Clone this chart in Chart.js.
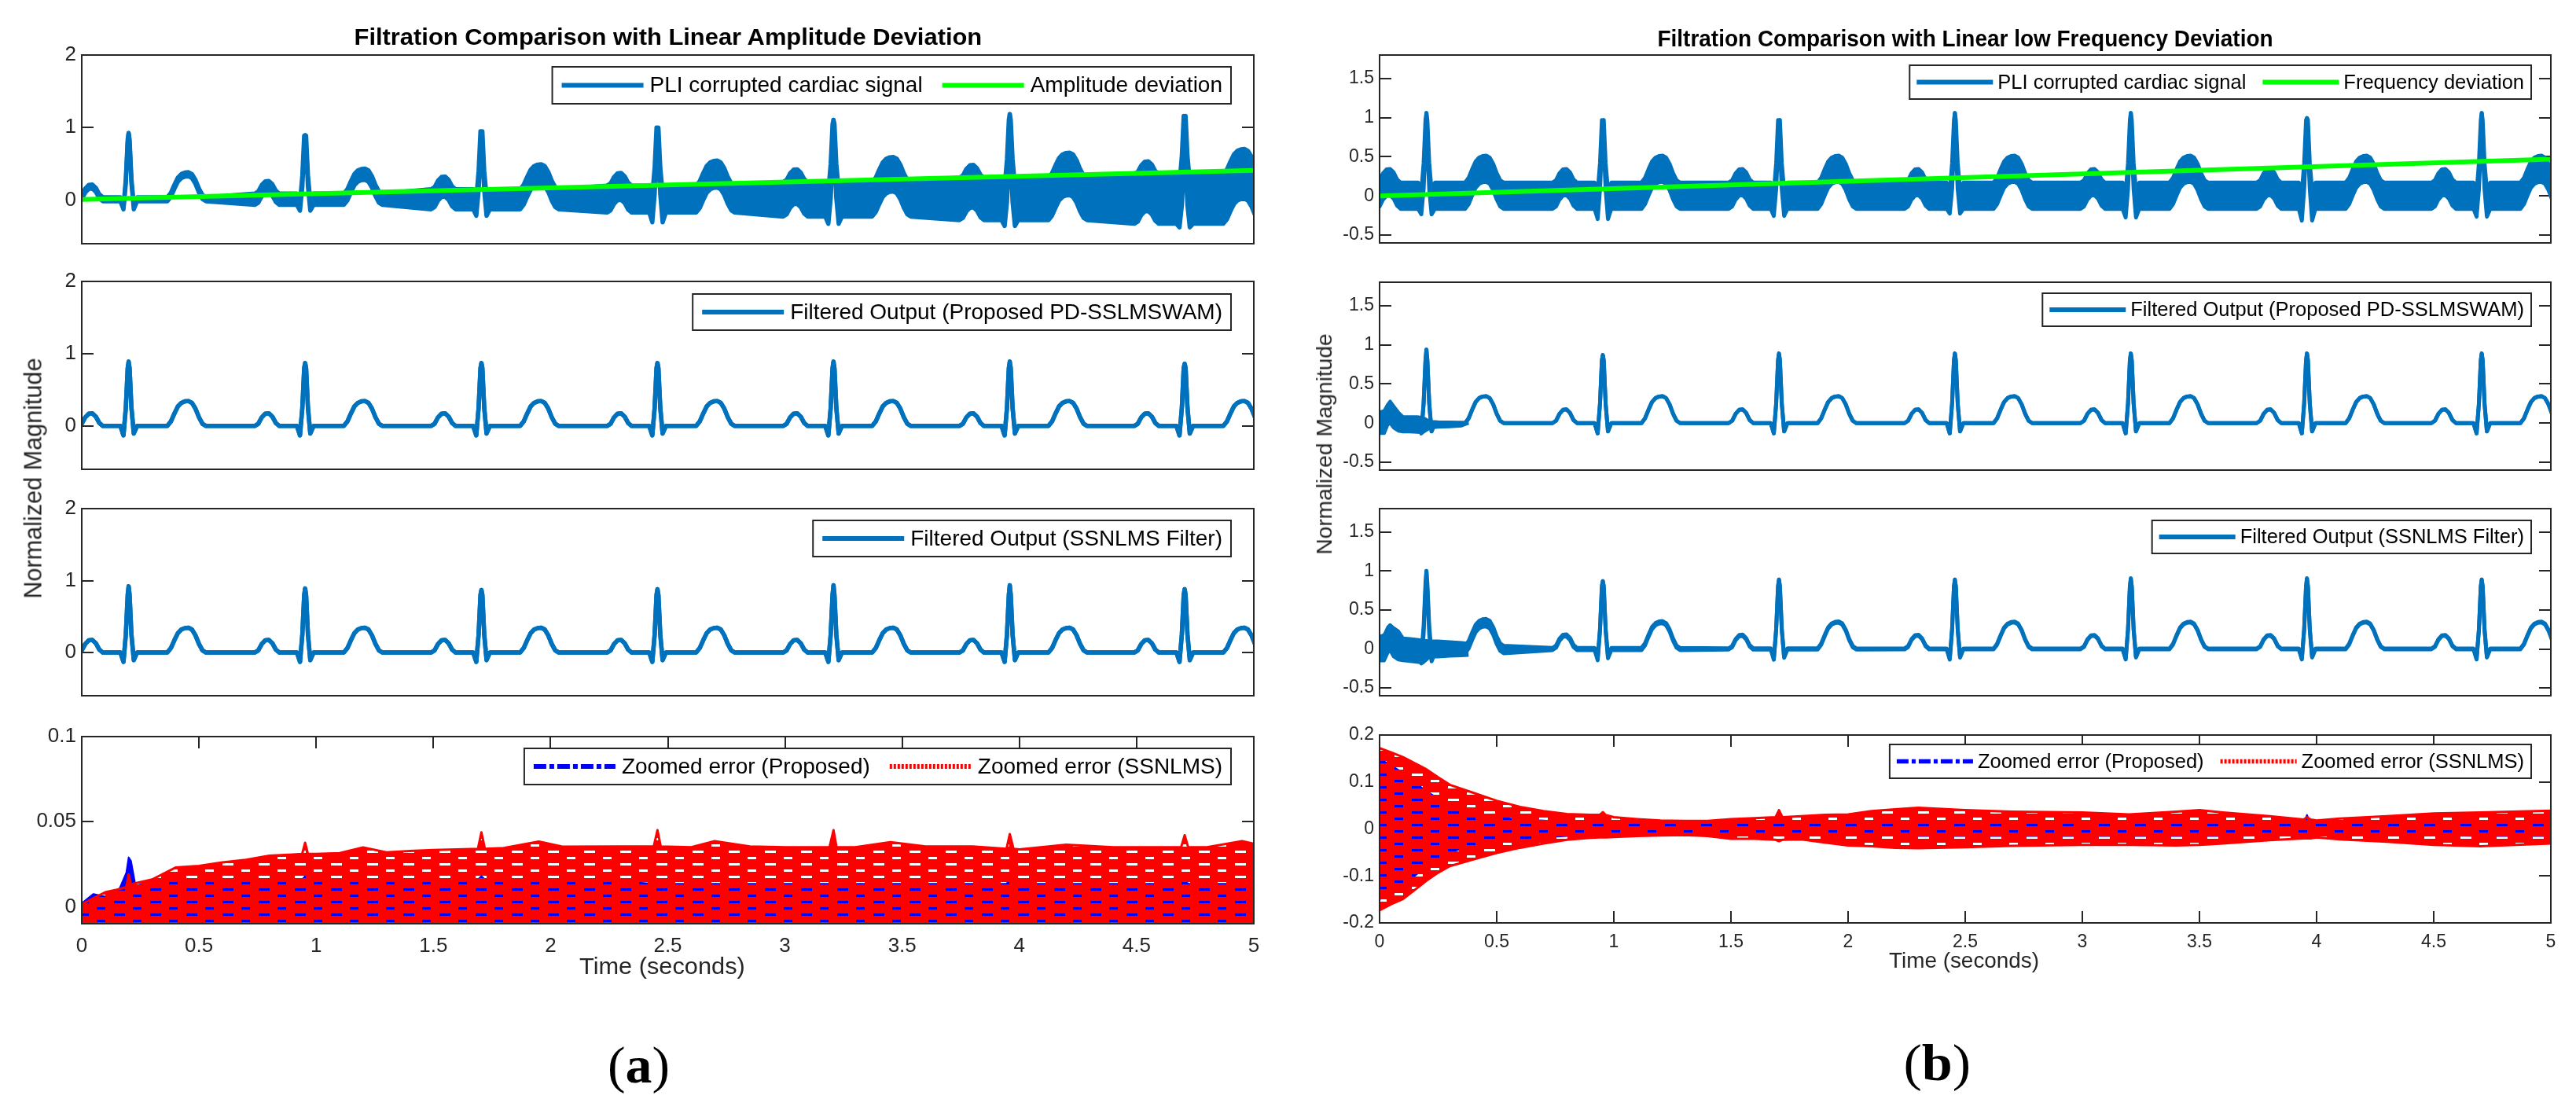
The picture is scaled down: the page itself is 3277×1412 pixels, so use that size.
<!DOCTYPE html>
<html>
<head>
<meta charset="utf-8">
<script src="https://cdn.jsdelivr.net/npm/chart.js@4.4.1/dist/chart.umd.min.js"></script>
<style>
  body { margin: 0; background: #fff; }
  #fig { position: relative; width: 3277px; height: 1412px; overflow: hidden; background: #fff;
         font-family: "Liberation Sans", Arial, sans-serif; }
  #fig canvas { position: absolute; }
  .txt { position: absolute; white-space: nowrap; line-height: 1; transform-origin: center center; }
</style>
</head>
<body>
<div id="fig"></div>
<script>
// ---- shared axis / beat data ----
var xTicks = [0, 0.5, 1, 1.5, 2, 2.5, 3, 3.5, 4, 4.5, 5];
var beatR = [0.2, 0.953, 1.705, 2.456, 3.207, 3.959, 4.705];          // R-peak times (s)
// one PQRST beat, time relative to R (s) and value
var shapeT = [-0.215, -0.2, -0.185, -0.17, -0.155, -0.14, -0.125, -0.11, -0.035, -0.022, -0.012, -0.004, 0,
              0.004, 0.012, 0.022, 0.036, 0.165, 0.18, 0.195, 0.21, 0.225, 0.24, 0.255, 0.27, 0.285, 0.3, 0.315, 0.33];
var shapeV = [0, 0.03, 0.12, 0.17, 0.175, 0.13, 0.04, 0, 0, -0.13, 0.25, 0.8, 0.885,
              0.8, 0.25, -0.105, 0, 0, 0.06, 0.17, 0.27, 0.32, 0.34, 0.345, 0.32, 0.24, 0.12, 0.03, 0];

// ---- (a) linear amplitude deviation ----
var aDriftT = [0, 5];
var aDriftV = [0.01, 0.41];
var aNoisyR = [0.925, 0.895, 0.795, 0.96, 1.105, 1.185, 1.025];
var aNoisyDip = [-0.125, -0.145, -0.215, -0.305, -0.325, -0.355, -0.375];
var aNoisyUp = [0.04, 0.09, 0.15, 0.2, 0.25, 0.31, 0.36];
var aNoisyLow = [0.015, 0.065, 0.125, 0.17, 0.225, 0.275, 0.325];
var aPropR = [0.89, 0.87, 0.87, 0.87, 0.89, 0.89, 0.86];
var aSsnR = [0.92, 0.89, 0.87, 0.88, 0.935, 0.935, 0.88];
var noAmp = [0, 0, 0, 0, 0, 0, 0];
var aErrT = [0, 0.05, 0.1, 0.15, 0.19, 0.2, 0.21, 0.23, 0.3, 0.4, 0.5, 0.6, 0.7, 0.8, 0.9, 0.94, 0.953, 0.965,
             1.0, 1.1, 1.2, 1.3, 1.4, 1.5, 1.6, 1.69, 1.705, 1.72, 1.8, 1.95, 2.05, 2.3, 2.44, 2.456, 2.47,
             2.6, 2.7, 2.85, 3.0, 3.19, 3.207, 3.22, 3.3, 3.45, 3.6, 3.8, 3.945, 3.959, 3.975,
             4.0, 4.2, 4.4, 4.6, 4.69, 4.705, 4.72, 4.8, 4.95, 5.0];
var aErrSsn = [0.0015, 0.005, 0.0085, 0.01, 0.0115, 0.019, 0.013, 0.0138, 0.016, 0.023, 0.024, 0.026, 0.0276, 0.03, 0.0307, 0.031, 0.0376, 0.031,
               0.031, 0.0315, 0.0348, 0.032, 0.0328, 0.0333, 0.0337, 0.034, 0.0437, 0.034, 0.0345, 0.0383, 0.0353, 0.0354, 0.0354, 0.045, 0.0354,
               0.035, 0.0385, 0.0354, 0.035, 0.035, 0.045, 0.035, 0.035, 0.038, 0.0354, 0.0354, 0.034, 0.0427, 0.034,
               0.0337, 0.0364, 0.035, 0.035, 0.035, 0.042, 0.035, 0.035, 0.0385, 0.037];
var aErrProp = [0.002, 0.0075, 0.006, 0.007, 0.02, 0.029, 0.027, 0.012, 0.016, 0.016, 0.016, 0.016, 0.016, 0.016, 0.016, 0.016, 0.018, 0.016,
                0.016, 0.016, 0.016, 0.016, 0.016, 0.016, 0.016, 0.016, 0.018, 0.016, 0.016, 0.016, 0.016, 0.015, 0.0135, 0.016, 0.0135,
                0.0135, 0.0135, 0.0135, 0.0135, 0.0135, 0.016, 0.0135, 0.0135, 0.0135, 0.0135, 0.0135, 0.0135, 0.016, 0.0135,
                0.0135, 0.0135, 0.0135, 0.0135, 0.0135, 0.016, 0.0135, 0.0135, 0.0135, 0.0135];

// ---- (b) linear low frequency deviation ----
var bDriftT = [0, 5];
var bDriftV = [0.0, 0.47];
var bNoisyR = [1.06, 0.93, 0.955, 1.06, 1.06, 0.995, 1.06];
var bNoisyDip = [-0.235, -0.295, -0.255, -0.225, -0.275, -0.315, -0.265];
var bNoisyUp = [0.17, 0.17, 0.17, 0.17, 0.17, 0.17, 0.17];
var bNoisyLow = [0.165, 0.165, 0.165, 0.165, 0.165, 0.165, 0.165];
var bPropR = [0.94, 0.87, 0.89, 0.89, 0.89, 0.89, 0.89];
var bSsnR = [1.0, 0.87, 0.89, 0.89, 0.905, 0.905, 0.89];
var bSsnUp = [0.04, 0.012, 0.008, 0.006, 0.005, 0.005, 0.005];
var bSsnLow = [0.055, 0.015, 0.008, 0.006, 0.005, 0.005, 0.005];
var bTransT = [0, 0.02, 0.035, 0.045, 0.06, 0.08, 0.1, 0.13, 0.16, 0.185, 0.215, 0.25, 0.3, 0.35, 0.38];
var bPropTransUp = [0.14, 0.16, 0.24, 0.28, 0.22, 0.14, 0.08, 0.08, 0.08, 0.07, 0.02, 0.015, 0.012, 0.008, 0.0];
var bPropTransLow = [-0.13, -0.13, -0.02, 0.0, -0.06, -0.1, -0.11, -0.11, -0.115, -0.12, -0.06, -0.05, -0.045, -0.035, 0.0];
var bSsnTransUp = [0.16, 0.18, 0.28, 0.31, 0.27, 0.23, 0.14, 0.13, 0.12, 0.11, 0.1, 0.1, 0.09, 0.08, 0.07];
var bSsnTransLow = [-0.15, -0.15, -0.05, -0.02, -0.1, -0.14, -0.15, -0.16, -0.17, -0.18, -0.1, -0.1, -0.09, -0.085, -0.08];
var bErrT = [0, 0.05, 0.1, 0.15, 0.2, 0.25, 0.3, 0.4, 0.5, 0.6, 0.7, 0.8, 0.9, 0.94, 0.953, 0.965,
             1.0, 1.1, 1.2, 1.3, 1.4, 1.5, 1.6, 1.69, 1.705, 1.72, 1.8, 1.9, 2.0, 2.1, 2.2, 2.3,
             2.5, 2.7, 3.0, 3.2, 3.4, 3.5, 3.6, 3.8, 3.945, 3.959, 3.975, 4.0, 4.1, 4.3, 4.5, 4.7, 5.0];
var bErrSsnUp = [0.172, 0.163, 0.153, 0.14, 0.127, 0.11, 0.094, 0.077, 0.06, 0.047, 0.038, 0.032, 0.03, 0.03, 0.036, 0.03,
                 0.025, 0.021, 0.018, 0.017, 0.017, 0.021, 0.023, 0.025, 0.04, 0.025, 0.027, 0.03, 0.031, 0.038, 0.042, 0.045,
                 0.04, 0.037, 0.035, 0.031, 0.037, 0.04, 0.035, 0.027, 0.02, 0.025, 0.02, 0.018, 0.022, 0.027, 0.033, 0.035, 0.039];
var bErrSsnLow = [-0.173, -0.16, -0.149, -0.13, -0.11, -0.093, -0.079, -0.065, -0.051, -0.04, -0.031, -0.023, -0.019, -0.018, -0.018, -0.018,
                  -0.017, -0.015, -0.014, -0.013, -0.015, -0.021, -0.021, -0.023, -0.026, -0.023, -0.022, -0.029, -0.035, -0.037, -0.04, -0.041,
                  -0.039, -0.036, -0.034, -0.034, -0.035, -0.034, -0.031, -0.024, -0.02, -0.02, -0.02, -0.018, -0.022, -0.027, -0.034, -0.037, -0.031];
var bErrPropUp = [0.15, 0.135, 0.12, 0.1, 0.08, 0.065, 0.05, 0.035, 0.025, 0.02, 0.018, 0.015, 0.013, 0.013, 0.03, 0.013,
                  0.012, 0.012, 0.012, 0.012, 0.012, 0.012, 0.012, 0.012, 0.04, 0.012, 0.012, 0.012, 0.012, 0.012, 0.014, 0.015,
                  0.015, 0.015, 0.015, 0.015, 0.015, 0.015, 0.015, 0.014, 0.012, 0.03, 0.012, 0.012, 0.012, 0.013, 0.014, 0.015, 0.015];
var bErrPropLow = [-0.15, -0.135, -0.12, -0.1, -0.08, -0.065, -0.05, -0.035, -0.025, -0.02, -0.018, -0.015, -0.013, -0.013, -0.013, -0.013,
                   -0.012, -0.012, -0.012, -0.012, -0.012, -0.012, -0.012, -0.012, -0.012, -0.012, -0.012, -0.012, -0.012, -0.012, -0.014, -0.015,
                   -0.015, -0.015, -0.015, -0.015, -0.015, -0.015, -0.015, -0.014, -0.012, -0.012, -0.012, -0.012, -0.012, -0.013, -0.014, -0.015, -0.015];

var ML_BLUE = '#0072BD';
var FONT = '"Liberation Sans", Arial, sans-serif';
var fig = document.getElementById('fig');

function pts(xs, ys) {
    var out = [];
    for (var i = 0; i < xs.length; i++) out.push({x: xs[i], y: ys[i]});
    return out;
}

// place the read beat shape at every R time, with per-beat band widths and R/dip values
function buildEcg(rPeak, upAmp, lowAmp, dip) {
    var up = [], low = [];
    for (var k = 0; k < beatR.length; k++) {
        for (var i = 0; i < shapeT.length; i++) {
            var u = shapeV[i] + upAmp[k], l = shapeV[i] - lowAmp[k];
            if (i === 12) { u = rPeak[k]; l = rPeak[k]; }
            if (dip && (i === 9 || i === 15)) { l = dip[k]; }
            up.push({x: beatR[k] + shapeT[i], y: u});
            low.push({x: beatR[k] + shapeT[i], y: l});
        }
    }
    return {up: up, low: low};
}

function redTexture() {
    var c = document.createElement('canvas');
    c.width = 46; c.height = 16;
    var g = c.getContext('2d');
    g.fillStyle = '#ff0000';
    g.fillRect(0, 0, 46, 16);
    g.clearRect(3, 3, 14, 3);
    g.clearRect(27, 11, 11, 3);
    return g.createPattern(c, 'repeat');
}

// MATLAB-like box with inward ticks
var axesBox = {
    id: 'axesBox',
    beforeDatasetsDraw: function (chart, args, o) {
        var ctx = chart.ctx, a = chart.chartArea, x = chart.scales.x, y = chart.scales.y;
        ctx.save();
        ctx.strokeStyle = '#262626';
        ctx.lineWidth = 2;
        ctx.beginPath();
        y.ticks.forEach(function (t) {
            var p = Math.round(y.getPixelForValue(t.value));
            ctx.moveTo(a.left, p); ctx.lineTo(a.left + o.len, p);
            ctx.moveTo(a.right, p); ctx.lineTo(a.right - o.len, p);
        });
        if (o.xTicks) {
            x.ticks.forEach(function (t) {
                var p = Math.round(x.getPixelForValue(t.value));
                ctx.moveTo(p, a.top); ctx.lineTo(p, a.top + o.len);
                ctx.moveTo(p, a.bottom); ctx.lineTo(p, a.bottom - o.len);
            });
        }
        ctx.stroke();
        ctx.restore();
    },
    afterDatasetsDraw: function (chart) {
        var ctx = chart.ctx, a = chart.chartArea;
        ctx.save();
        ctx.strokeStyle = '#262626';
        ctx.lineWidth = 2;
        ctx.strokeRect(a.left, a.top, a.right - a.left, a.bottom - a.top);
        ctx.restore();
    }
};

// boxed legend in the top right corner
var legendBox = {
    id: 'legendBox',
    afterDraw: function (chart, args, o) {
        if (!o.items) return;
        var ctx = chart.ctx, a = chart.chartArea;
        ctx.save();
        ctx.font = o.size + 'px ' + FONT;
        var widths = o.items.map(function (it) { return ctx.measureText(it.label).width; });
        var bw = o.padL + o.padR;
        widths.forEach(function (w, i) { bw += o.sample + o.gap + w + (i ? o.itemGap : 0); });
        var x0 = a.right - o.right - bw, y0 = a.top + o.top, ym = y0 + o.h / 2;
        ctx.fillStyle = '#fff';
        ctx.fillRect(x0, y0, bw, o.h);
        ctx.lineWidth = 2;
        ctx.strokeStyle = '#262626';
        ctx.strokeRect(x0, y0, bw, o.h);
        var x = x0 + o.padL;
        o.items.forEach(function (it, i) {
            ctx.beginPath();
            ctx.setLineDash(it.dash || []);
            ctx.lineCap = 'butt';
            ctx.lineWidth = it.width;
            ctx.strokeStyle = it.color;
            ctx.moveTo(x, ym); ctx.lineTo(x + o.sample, ym);
            ctx.stroke();
            ctx.setLineDash([]);
            x += o.sample + o.gap;
            ctx.fillStyle = '#000';
            ctx.textAlign = 'left';
            ctx.textBaseline = 'middle';
            ctx.fillText(it.label, x, ym + 1);
            x += widths[i] + o.itemGap;
        });
        ctx.restore();
    }
};

function panel(col, row, yMin, yMax, yTicks, showX, datasets, items, lgPos) {
    var top = col.rows[row][0], bottom = col.rows[row][1];
    var padL = 100, padR = 20, padT = 18, padB = 18, xH = showX ? 50 : 0;
    var w = col.right - col.left, h = bottom - top;
    var cv = document.createElement('canvas');
    cv.width = w + padL + padR;
    cv.height = h + padT + padB + xH;
    cv.style.left = (col.left - padL) + 'px';
    cv.style.top = (top - padT) + 'px';
    fig.appendChild(cv);
    var tickFont = {family: FONT, size: col.tick};
    new Chart(cv.getContext('2d'), {
        type: 'line',
        data: {datasets: datasets},
        options: {
            responsive: false,
            animation: false,
            devicePixelRatio: 1,
            layout: {padding: {left: 0, right: padR, top: padT, bottom: padB}},
            elements: {point: {radius: 0}, line: {tension: 0, borderJoinStyle: 'round'}},
            plugins: {
                legend: {display: false},
                tooltip: {enabled: false},
                axesBox: {len: 15, xTicks: showX},
                legendBox: {
                    items: items, size: col.legend, right: col.lg.right, top: lgPos[0], h: lgPos[1],
                    padL: col.lg.padL, padR: col.lg.padR, sample: col.lg.sample, gap: col.lg.gap, itemGap: col.lg.itemGap
                }
            },
            scales: {
                x: {
                    type: 'linear', min: 0, max: 5, display: showX,
                    grid: {display: false, drawTicks: false}, border: {display: false},
                    afterBuildTicks: function (s) { s.ticks = xTicks.map(function (v) { return {value: v}; }); },
                    afterFit: function (s) {
                        s.height = xH;
                        s.paddingLeft = 0; s.paddingRight = 0; s.paddingTop = 0; s.paddingBottom = 0;
                    },
                    ticks: {autoSkip: false, maxRotation: 0, padding: col.xPad, color: '#262626', font: tickFont,
                            callback: function (v) { return String(v); }}
                },
                y: {
                    type: 'linear', min: yMin, max: yMax,
                    grid: {display: false, drawTicks: false}, border: {display: false},
                    afterBuildTicks: function (s) { s.ticks = yTicks.map(function (v) { return {value: v}; }); },
                    afterFit: function (s) {
                        s.width = padL;
                        s.paddingLeft = 0; s.paddingRight = 0; s.paddingTop = 0; s.paddingBottom = 0;
                    },
                    ticks: {autoSkip: false, padding: 7, color: '#262626', font: tickFont,
                            callback: function (v) { return String(v); }}
                }
            }
        },
        plugins: [axesBox, legendBox]
    });
}

function ecgSets(band, lw) {
    return [
        {data: band.up, borderColor: ML_BLUE, backgroundColor: ML_BLUE, borderWidth: lw, fill: false},
        {data: band.low, borderColor: ML_BLUE, backgroundColor: ML_BLUE, borderWidth: lw, fill: '-1'}
    ];
}

function transSets(ups, lows) {
    return [
        {data: pts(bTransT, ups), borderColor: ML_BLUE, backgroundColor: ML_BLUE, borderWidth: 4, fill: false},
        {data: pts(bTransT, lows), borderColor: ML_BLUE, backgroundColor: ML_BLUE, borderWidth: 4, fill: '-1'}
    ];
}

function text(html, cx, cy, css, fitW, rotate) {
    var d = document.createElement('div');
    d.className = 'txt';
    d.innerHTML = html;
    for (var k in css) d.style[k] = css[k];
    fig.appendChild(d);
    var w = d.offsetWidth, h = d.offsetHeight;
    var s = fitW ? fitW / w : 1;
    d.style.left = (cx - w / 2) + 'px';
    d.style.top = (cy - h / 2) + 'px';
    d.style.transform = (rotate ? 'rotate(-90deg) ' : '') + 'scaleX(' + s + ')';
}

var colA = {left: 104, right: 1595, tick: 26, legend: 28, lw: 5.5, xPad: 13,
            rows: [[70, 310], [358, 597], [647, 885], [937, 1175]],
            lg: {padL: 12, sample: 104, gap: 8, itemGap: 25, padR: 11, right: 29}};
var colB = {left: 1755, right: 3245, tick: 23, legend: 25.5, lw: 5, xPad: 11,
            rows: [[70, 309], [359, 598], [647, 885], [935, 1174]],
            lg: {padL: 9, sample: 97, gap: 6, itemGap: 21, padR: 9, right: 25}};

var lineItem = function (label, color, w) { return {label: label, color: color, width: w}; };
var tex = redTexture();
var yA = [0, 1, 2], yB = [-0.5, 0, 0.5, 1, 1.5];

// ----- column (a) -----
panel(colA, 0, -0.6, 2, yA, false,
    [{data: pts(aDriftT, aDriftV), borderColor: '#00FF00', borderWidth: 6, fill: false}]
        .concat(ecgSets(buildEcg(aNoisyR, aNoisyUp, aNoisyLow, aNoisyDip), colA.lw)),
    [lineItem('PLI corrupted cardiac signal', ML_BLUE, 6), lineItem('Amplitude deviation', '#00FF00', 6)], [15, 47]);
panel(colA, 1, -0.6, 2, yA, false, ecgSets(buildEcg(aPropR, noAmp, noAmp), colA.lw),
    [lineItem('Filtered Output (Proposed PD-SSLMSWAM)', ML_BLUE, 6)], [16, 46]);
panel(colA, 2, -0.6, 2, yA, false, ecgSets(buildEcg(aSsnR, noAmp, noAmp), colA.lw),
    [lineItem('Filtered Output (SSNLMS Filter)', ML_BLUE, 6)], [15, 46]);
panel(colA, 3, -0.01, 0.1, [0, 0.05, 0.1], true, [
        {data: pts(aErrT, aErrSsn), borderColor: '#FF0000', backgroundColor: tex, borderWidth: 3, fill: {value: -0.012}},
        {data: pts(aErrT, aErrProp), borderColor: '#0000FF', backgroundColor: '#0000FF', borderWidth: 2, fill: {value: -0.012}}
    ],
    [{label: 'Zoomed error (Proposed)', color: '#0000FF', width: 6, dash: [16, 4, 6, 4]},
     {label: 'Zoomed error (SSNLMS)', color: '#FF0000', width: 6, dash: [3, 2]}], [15, 46]);

// ----- column (b) -----
panel(colB, 0, -0.6, 1.8, yB, false,
    [{data: pts(bDriftT, bDriftV), borderColor: '#00FF00', borderWidth: 6, fill: false}]
        .concat(ecgSets(buildEcg(bNoisyR, bNoisyUp, bNoisyLow, bNoisyDip), colB.lw)),
    [lineItem('PLI corrupted cardiac signal', ML_BLUE, 6), lineItem('Frequency deviation', '#00FF00', 6)], [13, 43]);
panel(colB, 1, -0.6, 1.8, yB, false,
    ecgSets(buildEcg(bPropR, noAmp, noAmp), colB.lw).concat(transSets(bPropTransUp, bPropTransLow)),
    [lineItem('Filtered Output (Proposed PD-SSLMSWAM)', ML_BLUE, 6)], [14, 42]);
panel(colB, 2, -0.6, 1.8, yB, false,
    ecgSets(buildEcg(bSsnR, bSsnUp, bSsnLow), colB.lw).concat(transSets(bSsnTransUp, bSsnTransLow)),
    [lineItem('Filtered Output (SSNLMS Filter)', ML_BLUE, 6)], [15, 42]);
panel(colB, 3, -0.2, 0.2, [-0.2, -0.1, 0, 0.1, 0.2], true, [
        {data: pts(bErrT, bErrSsnUp), borderColor: '#FF0000', borderWidth: 3, fill: false},
        {data: pts(bErrT, bErrSsnLow), borderColor: '#FF0000', backgroundColor: tex, borderWidth: 3, fill: '-1'},
        {data: pts(bErrT, bErrPropUp), borderColor: '#0000FF', borderWidth: 2, fill: false},
        {data: pts(bErrT, bErrPropLow), borderColor: '#0000FF', backgroundColor: '#0000FF', borderWidth: 2, fill: '-1'}
    ],
    [{label: 'Zoomed error (Proposed)', color: '#0000FF', width: 5.5, dash: [15, 4, 5, 4]},
     {label: 'Zoomed error (SSNLMS)', color: '#FF0000', width: 5.5, dash: [3, 2]}], [12, 43]);

// ----- titles and axis labels -----
var sans = {fontFamily: FONT, color: '#000'};
text('Filtration Comparison with Linear Amplitude Deviation', 850, 47,
     Object.assign({fontSize: '29px', fontWeight: 'bold'}, sans), 799);
text('Filtration Comparison with Linear low Frequency Deviation', 2500, 49,
     Object.assign({fontSize: '29px', fontWeight: 'bold'}, sans), 783);
text('Normalized Magnitude', 42, 608, {fontFamily: FONT, fontSize: '31px', color: '#262626'}, 306, true);
text('Normalized Magnitude', 1685, 565, {fontFamily: FONT, fontSize: '28px', color: '#262626'}, 281, true);
text('Time (seconds)', 842, 1229, {fontFamily: FONT, fontSize: '29px', color: '#262626'}, 211);
text('Time (seconds)', 2498, 1222, {fontFamily: FONT, fontSize: '27px', color: '#262626'}, 191);
text('(<b>a</b>)', 812, 1355, {fontFamily: '"Liberation Serif", "Times New Roman", serif', fontSize: '66px', color: '#000'}, 79);
text('(<b>b</b>)', 2464, 1352, {fontFamily: '"Liberation Serif", "Times New Roman", serif', fontSize: '66px', color: '#000'}, 86);
</script>
</body>
</html>
